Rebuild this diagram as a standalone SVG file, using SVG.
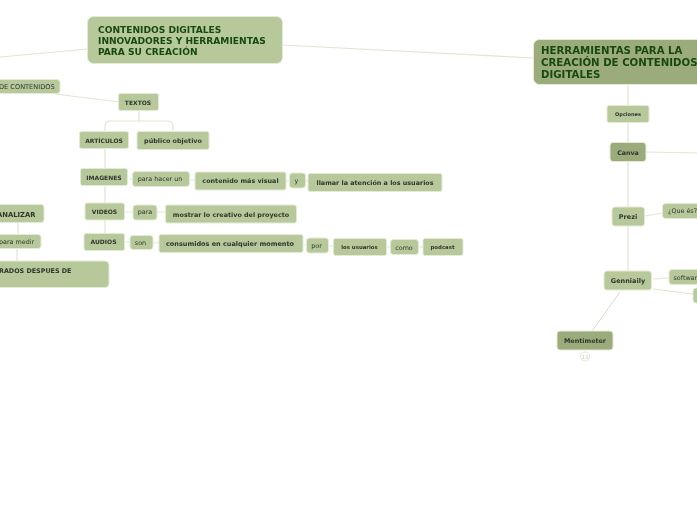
<svg xmlns="http://www.w3.org/2000/svg" width="697" height="520" viewBox="0 0 697 520">
<defs><filter id="soft" x="-2%" y="-2%" width="104%" height="104%"><feGaussianBlur stdDeviation="0.42"/></filter></defs>
<style>
text{font-family:"DejaVu Sans",Verdana,sans-serif;fill:#30352b;white-space:pre}
.n{fill:#b7c99b;stroke:#e3ead6;stroke-width:1}
.d{fill:#9bab7b;stroke:#e3ead6;stroke-width:1}
.b{font-weight:700}
.r{font-weight:700;fill:#174a0e}
.c{text-anchor:middle}
.l{fill:none;stroke:#dfe7d1;stroke-width:1.2}
</style>
<rect width="697" height="520" fill="#fff"/>
<g filter="url(#soft)">
<g id="connectors">
<path class="l" d="M0 57L88 49"/>
<path class="l" d="M282 45L534 58"/>
<path class="l" d="M55 94L120 102"/>
<path class="l" d="M139 111V121M105 131V126Q105 121 110 121H168Q173 121 173 126V131"/>
<path class="l" d="M105 149V169M105 186V203M105 220V234"/>
<path class="l" d="M129 179H133M189 180H196M286 181H290M305 181H309"/>
<path class="l" d="M125 212H134M157 212H166"/>
<path class="l" d="M125 242H131M153 243H160M302 245H307M329 246H334M386 247H391M418 247H423"/>
<path class="l" d="M18 223V235M17 249V261"/>
<path class="l" d="M628 85V106M628 123V143M628 162V207M628 226V271"/>
<path class="l" d="M646 152L697 153M645 216L663 213M653 279L669 278M653 289L693 294"/>
<path d="M620 292L592 331" fill="none" stroke="#d5dcc4" stroke-width="1"/>
</g>
<g id="root1"><rect class="n" x="87.500" y="16.500" width="195" height="47" rx="6"/>
<text class="r" x="98" y="33" font-size="9.100">CONTENIDOS DIGITALES</text>
<text class="r" x="98" y="44" font-size="9.100">INNOVADORES Y HERRAMIENTAS</text>
<text class="r" x="98" y="55" font-size="9.100">PARA SU CREACIÓN</text></g>
<g id="root2"><rect class="d" x="533.500" y="39.500" width="180" height="45" rx="6"/>
<text class="r" x="541" y="54" font-size="10.200">HERRAMIENTAS PARA LA</text>
<text class="r" x="541" y="66" font-size="10.200">CREACIÓN DE CONTENIDOS</text>
<text class="r" x="541" y="78" font-size="10.200">DIGITALES</text></g>
<g id="de-contenidos"><rect class="n" x="-20" y="79.500" width="80" height="14" rx="3"/><text x="-1" y="89" font-size="6.600">DE CONTENIDOS</text></g>
<g id="textos"><rect class="n" x="118.500" y="93.500" width="40" height="17" rx="2"/><text class="b c" x="138" y="105" font-size="6">TEXTOS</text></g>
<g id="articulos"><rect class="n" x="79.500" y="131.500" width="49" height="17" rx="2"/><text class="b c" x="104" y="142.500" font-size="6">ARTÍCULOS</text></g>
<g id="publico"><rect class="n" x="137" y="131.500" width="72" height="18" rx="2"/><text class="b c" x="173" y="143" font-size="6.400">público objetivo</text></g>
<g id="imagenes"><rect class="n" x="80.500" y="168.500" width="47" height="17" rx="2"/><text class="b c" x="104" y="180" font-size="6">IMAGENES</text></g>
<g id="para-hacer"><rect class="n" x="132.500" y="171.500" width="57" height="15" rx="3"/><text class="c" x="160" y="181" font-size="6.400">para hacer un</text></g>
<g id="visual"><rect class="n" x="195" y="172" width="91" height="18" rx="2"/><text class="b c" x="240.500" y="183" font-size="6.400">contenido más visual</text></g>
<g id="y"><rect class="n" x="289.500" y="173" width="16" height="15" rx="3"/><text class="c" x="296.500" y="182.500" font-size="6.400">y</text></g>
<g id="llamar"><rect class="n" x="308" y="173.500" width="134" height="18" rx="2"/><text class="b c" x="375" y="185" font-size="6.400">llamar la atención a los usuarios</text></g>
<g id="videos"><rect class="n" x="85" y="203" width="39.500" height="17" rx="2"/><text class="b c" x="104.500" y="214" font-size="6">VIDEOS</text></g>
<g id="para"><rect class="n" x="133" y="205" width="24" height="15" rx="3"/><text class="c" x="145" y="214" font-size="6.400">para</text></g>
<g id="mostrar"><rect class="n" x="165.500" y="205" width="131" height="18" rx="2"/><text class="b c" x="231" y="216.500" font-size="6.400">mostrar lo creativo del proyecto</text></g>
<g id="audios"><rect class="n" x="84" y="233.500" width="40.500" height="17" rx="2"/><text class="b c" x="103.500" y="244" font-size="6">AUDIOS</text></g>
<g id="son"><rect class="n" x="130" y="235.500" width="23" height="14" rx="3"/><text class="c" x="140.500" y="244.500" font-size="6.400">son</text></g>
<g id="consumidos"><rect class="n" x="159" y="234.500" width="144" height="18" rx="2"/><text class="b c" x="230" y="246" font-size="6.500">consumidos en cualquier momento</text></g>
<g id="por"><rect class="n" x="306.500" y="238" width="22" height="15" rx="3"/><text class="c" x="316.500" y="248" font-size="6.400">por</text></g>
<g id="usuarios"><rect class="n" x="333.500" y="238.500" width="53" height="17" rx="2"/><text class="b c" x="359.500" y="249" font-size="5.400">los usuarios</text></g>
<g id="como"><rect class="n" x="390.500" y="239.500" width="28" height="15" rx="3"/><text class="c" x="404" y="249.500" font-size="6.400">como</text></g>
<g id="podcast"><rect class="n" x="423" y="238.500" width="40" height="17" rx="2"/><text class="b c" x="442.500" y="249" font-size="5.400">podcast</text></g>
<g id="analizar"><rect class="n" x="-20" y="204.500" width="64" height="18" rx="3"/><text class="b" x="-3" y="216.500" font-size="6.800">ANALIZAR</text></g>
<g id="para-medir"><rect class="n" x="-20" y="234.500" width="61" height="14" rx="3"/><text x="-1" y="244" font-size="6.400">para medir</text></g>
<g id="rados"><rect class="n" x="-30" y="261" width="139" height="26.500" rx="4"/><text class="b" x="-1" y="272.500" font-size="6.400">RADOS DESPUES DE</text></g>
<g id="opciones"><rect class="n" x="607" y="105.500" width="42" height="17" rx="2"/><text class="b c" x="628" y="116" font-size="5">Opciones</text></g>
<g id="canva"><rect class="d" x="610" y="142.500" width="36" height="19" rx="3"/><text class="b c" x="628" y="154.500" font-size="6.300">Canva</text></g>
<g id="prezi"><rect class="n" x="612" y="207" width="32.500" height="19" rx="3"/><text class="b c" x="628" y="219" font-size="6.500">Prezi</text></g>
<g id="que-es"><rect class="n" x="662.500" y="203.500" width="50" height="15" rx="3"/><text x="668" y="213" font-size="6.400">¿Que és?</text></g>
<g id="genially"><rect class="n" x="604" y="271" width="47.500" height="19" rx="3"/><text class="b c" x="628" y="283" font-size="6.500">Genniaily</text></g>
<g id="software"><rect class="n" x="669" y="269.500" width="50" height="15" rx="3"/><text x="673.500" y="280" font-size="6.400">software</text></g>
<g id="cut"><rect class="n" x="693" y="288" width="20" height="15" rx="3"/></g>
<g id="mentimeter"><rect class="d" x="557" y="331" width="56" height="19" rx="3"/><text class="b c" x="585" y="343" font-size="6.400">Mentimeter</text></g>
<g id="badge"><circle cx="585" cy="356.500" r="4.500" fill="#fff" stroke="#dfe7d1"/><text class="c" x="585" y="358.500" font-size="5" style="fill:#c3cbb3">13</text></g>
</g>
</svg>
